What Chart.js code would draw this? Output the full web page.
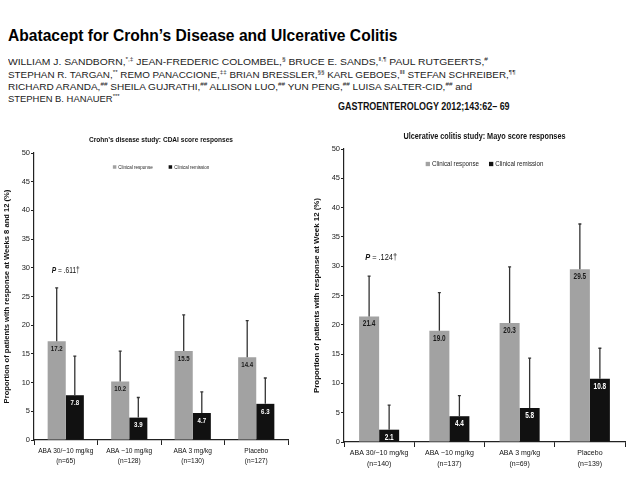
<!DOCTYPE html>
<html>
<head>
<meta charset="utf-8">
<script src="https://cdn.jsdelivr.net/npm/chart.js@4.4.1/dist/chart.umd.min.js"></script>
<style>
  body { margin: 0; background: #fff; width: 638px; height: 479px; overflow: hidden; position: relative;
         font-family: "Liberation Sans", Arial, sans-serif; color: #111; }
  .t { position: absolute; left: 8px; white-space: nowrap; transform-origin: 0 50%; }
  #title { top: 27px; font-size: 17px; font-weight: bold; line-height: 18px; color: #000; }
  .au { font-size: 9.5px; line-height: 11px; color: #222; }
  .au sup { font-size: 6px; vertical-align: 4px; line-height: 0; }
  #journal { left: 338px; top: 101px; font-size: 10px; font-weight: bold; line-height: 12px; color: #111; }
  .box { position: absolute; top: 120px; height: 359px; }
</style>
</head>
<body>
<div class="t" id="title" data-w="390">Abatacept for Crohn’s Disease and Ulcerative Colitis</div>
<div class="t au" style="top:56px" data-w="480">WILLIAM J. SANDBORN,<sup>*,‡</sup> JEAN-FREDERIC COLOMBEL,<sup>§</sup> BRUCE E. SANDS,<sup>‖,¶</sup> PAUL RUTGEERTS,<sup>#</sup></div>
<div class="t au" style="top:69px" data-w="507">STEPHAN R. TARGAN,<sup>**</sup> REMO PANACCIONE,<sup>‡‡</sup> BRIAN BRESSLER,<sup>§§</sup> KARL GEBOES,<sup>‖‖</sup> STEFAN SCHREIBER,<sup>¶¶</sup></div>
<div class="t au" style="top:81px" data-w="464">RICHARD ARANDA,<sup>##</sup> SHEILA GUJRATHI,<sup>##</sup> ALLISON LUO,<sup>##</sup> YUN PENG,<sup>##</sup> LUISA SALTER-CID,<sup>##</sup> and</div>
<div class="t au" style="top:93px" data-w="112">STEPHEN B. HANAUER<sup>***</sup></div>
<div class="t" id="journal" data-w="172">GASTROENTEROLOGY 2012;143:62– 69</div>

<div class="box" style="left:0;width:305px"><canvas id="crohnChart"></canvas></div>
<div class="box" style="left:310px;width:328px"><canvas id="ucChart"></canvas></div>

<script>
// Crohn's disease study (CDAI)
const crohnLabels = [["ABA 30/~10 mg/kg", "(n=65)"], ["ABA ~10 mg/kg", "(n=128)"], ["ABA 3 mg/kg", "(n=130)"], ["Placebo", "(n=127)"]];
const crohnResponse = [17.2, 10.2, 15.5, 14.4];
const crohnRemission = [7.8, 3.9, 4.7, 6.3];
const crohnResponseUpper = [26.5, 15.5, 21.8, 20.8];
const crohnRemissionUpper = [14.6, 7.4, 8.4, 10.8];

// Ulcerative colitis study (Mayo)
const ucLabels = [["ABA 30/~10 mg/kg", "(n=140)"], ["ABA ~10 mg/kg", "(n=137)"], ["ABA 3 mg/kg", "(n=69)"], ["Placebo", "(n=139)"]];
const ucResponse = [21.4, 19.0, 20.3, 29.5];
const ucRemission = [2.1, 4.4, 5.8, 10.8];
const ucResponseUpper = [28.3, 25.5, 29.9, 37.2];
const ucRemissionUpper = [6.3, 7.9, 14.3, 16.0];

const seriesNames = ["Clinical response", "Clinical remission"];

const SANS = '"Liberation Sans", Arial, sans-serif';

// squeeze header lines to the widths in the scan
document.querySelectorAll(".t").forEach(el => {
  const w = +el.dataset.w;
  el.style.transform = "scaleX(" + (w / el.scrollWidth) + ")";
});

// text squeezed horizontally by sx (the scan uses a condensed face)
function squeezed(ctx, text, x, y, sx) {
  ctx.save();
  ctx.translate(x, y);
  ctx.scale(sx, 1);
  ctx.fillText(text, 0, 0);
  ctx.restore();
  return ctx.measureText(text).width * sx;
}

/* error bars, value labels, title, legend, P value */
const extras = {
  id: "extras",
  afterDatasetsDraw(chart, args, o) {
    const ctx = chart.ctx;
    const y = chart.scales.y;
    const area = chart.chartArea;
    const cx = (area.left + area.right) / 2;
    ctx.save();
    ctx.textBaseline = "middle";

    chart.data.datasets.forEach((ds, i) => {
      chart.getDatasetMeta(i).data.forEach((bar, j) => {
        const top = y.getPixelForValue(ds.upper[j]);
        ctx.strokeStyle = "#333";
        ctx.lineWidth = 1.3;
        ctx.beginPath();
        ctx.moveTo(bar.x, bar.y);
        ctx.lineTo(bar.x, top);
        ctx.moveTo(bar.x - 1.5, top);
        ctx.lineTo(bar.x + 1.5, top);
        ctx.stroke();

        ctx.fillStyle = ds.valueColor;
        ctx.font = "bold " + o.valueSize + "px " + SANS;
        ctx.textAlign = "center";
        squeezed(ctx, ds.data[j].toFixed(1), bar.x, bar.y + 7.5, 0.76);
      });
    });

    // chart title
    ctx.fillStyle = "#111";
    ctx.font = "bold " + o.titleSize + "px " + SANS;
    ctx.textAlign = "center";
    squeezed(ctx, o.title, cx, area.top - o.titleGap, o.titleWidth / ctx.measureText(o.title).width);

    // legend
    ctx.font = o.legendSize + "px " + SANS;
    ctx.textAlign = "left";
    const box = o.legendBox;
    const items = chart.data.datasets.map(ds => ({
      text: ds.label, color: ds.backgroundColor, w: ctx.measureText(ds.label).width * o.legendSx
    }));
    const total = items.reduce((s, it) => s + box + 2 + it.w, 0) + o.legendGap;
    let lx = cx - total / 2;
    const ly = area.top + o.legendDy;
    items.forEach(it => {
      ctx.fillStyle = it.color;
      ctx.fillRect(lx, ly - box / 2, box, box);
      lx += box + 2;
      ctx.fillStyle = "#222";
      squeezed(ctx, it.text, lx, ly, o.legendSx);
      lx += it.w + o.legendGap;
    });

    // P value
    const px = chart.scales.x.getPixelForValue(0) - 14;
    const py = y.getPixelForValue(o.pAt);
    const rest = " = " + o.pText + "\u2020";
    ctx.font = "italic bold " + o.pSize + "px " + SANS;
    const w1 = ctx.measureText("P").width;
    ctx.font = o.pSize + "px " + SANS;
    const w2 = ctx.measureText(rest).width;
    const sx = o.pWidth / (w1 + w2);
    ctx.fillStyle = "#111";
    ctx.font = "italic bold " + o.pSize + "px " + SANS;
    squeezed(ctx, "P", px, py, sx);
    ctx.font = o.pSize + "px " + SANS;
    squeezed(ctx, rest, px + w1 * sx, py, sx);

    ctx.restore();
  }
};

function buildChart(id, o) {
  return new Chart(document.getElementById(id), {
    type: "bar",
    data: {
      labels: o.labels,
      datasets: [
        { label: seriesNames[0], data: o.response, upper: o.responseUpper, backgroundColor: "#a2a2a2", valueColor: "#1a1a1a" },
        { label: seriesNames[1], data: o.remission, upper: o.remissionUpper, backgroundColor: "#111111", valueColor: "#ffffff" }
      ]
    },
    options: {
      responsive: true,
      maintainAspectRatio: false,
      animation: false,
      layout: { padding: o.padding },
      datasets: { bar: { categoryPercentage: 0.57, barPercentage: 1 } },
      plugins: {
        legend: { display: false },
        tooltip: { enabled: false },
        extras: o.extras
      },
      scales: {
        x: {
          grid: { drawOnChartArea: false, tickLength: 5, color: "#222", offset: true },
          border: { color: "#222", width: 1.2 },
          ticks: { font: { family: SANS, size: o.xFont, lineHeight: 1.55 }, color: "#111", padding: 1, maxRotation: 0, autoSkip: false },
          afterFit(s) { s.height = o.xHeight; }
        },
        y: {
          min: 0,
          max: 50,
          ticks: { stepSize: 5, font: { family: SANS, size: 7.5 }, color: "#222", padding: 1 },
          grid: { drawOnChartArea: false, tickLength: 3, color: "#222" },
          border: { color: "#222", width: 1.2 },
          title: { display: true, text: o.yTitle, color: "#111",
                   font: { family: SANS, size: o.yTitleSize, weight: "bold" },
                   padding: { top: 2, bottom: 0 } },
          afterFit(s) { s.width = 34; }
        }
      }
    },
    plugins: [extras]
  });
}

buildChart("crohnChart", {
  labels: crohnLabels,
  response: crohnResponse, remission: crohnRemission,
  responseUpper: crohnResponseUpper, remissionUpper: crohnRemissionUpper,
  yTitle: "Proportion of patients with response at Weeks 8 and 12 (%)",
  yTitleSize: 7.6,
  xFont: 6.6,
  padding: { top: 33, right: 17, left: 0, bottom: 0 },
  xHeight: 39,
  extras: { title: "Crohn’s disease study: CDAI score responses", titleSize: 8, titleWidth: 144, titleGap: 13,
            legendSize: 6, legendSx: 0.75, legendBox: 3.5, legendDy: 14, legendGap: 16, valueSize: 8,
            pText: ".611", pAt: 29.5, pSize: 9, pWidth: 28 }
});

buildChart("ucChart", {
  labels: ucLabels,
  response: ucResponse, remission: ucRemission,
  responseUpper: ucResponseUpper, remissionUpper: ucRemissionUpper,
  yTitle: "Proportion of patients with response at Week 12 (%)",
  yTitleSize: 7.9,
  xFont: 7,
  padding: { top: 29, right: 13, left: 0, bottom: 0 },
  xHeight: 37,
  extras: { title: "Ulcerative colitis study: Mayo score responses", titleSize: 8.5, titleWidth: 162, titleGap: 12.5,
            legendSize: 6.5, legendSx: 0.95, legendBox: 4.3, legendDy: 15, legendGap: 10, valueSize: 8.5,
            pText: ".124", pAt: 31.5, pSize: 9.5, pWidth: 32 }
});
</script>
</body>
</html>
